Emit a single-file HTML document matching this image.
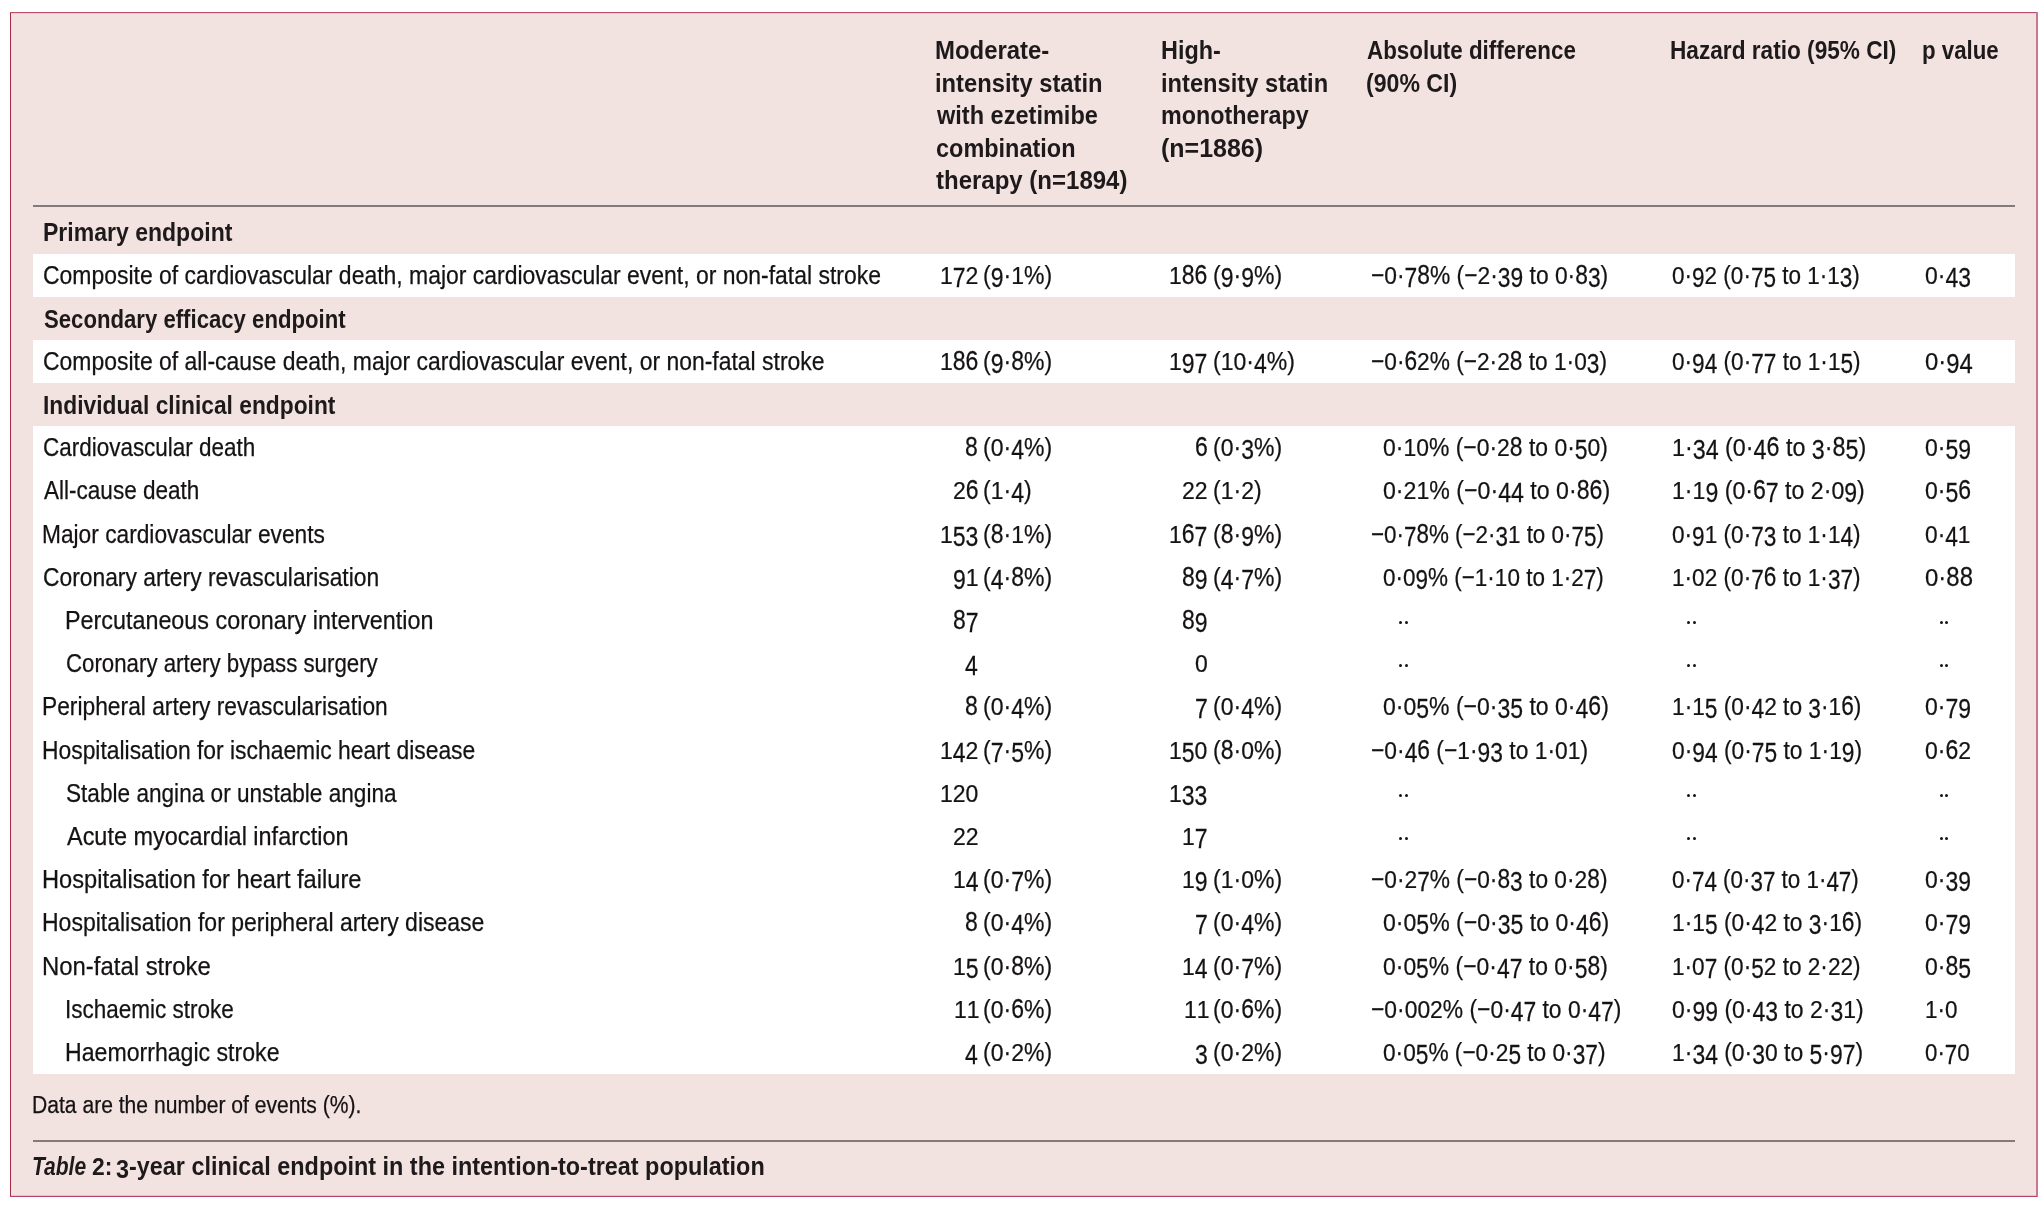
<!DOCTYPE html>
<html><head><meta charset="utf-8"><title>Table 2</title>
<style>
html,body{margin:0;padding:0;background:#fff;width:2044px;height:1206px;overflow:hidden}
.box{position:absolute;left:10px;top:12px;width:2027px;height:1185px;background:#f2e3e1}
.bd{position:absolute}
.w{position:absolute;left:32.5px;width:1982.5px;background:#fff}
.r{position:absolute;left:32.5px;width:1982.5px;background:#857a7b}
.layer{position:absolute;left:0;top:0;width:2044px;height:1206px;will-change:transform}
.g{display:inline-block}
.dt{position:absolute;width:3px;height:3px;border-radius:50%;background:#151213}
.t{position:absolute;white-space:nowrap;line-height:40px;font-family:"Liberation Sans",sans-serif;color:#151213;-webkit-text-stroke:0.25px #151213;transform-origin:0 0}
.b{-webkit-text-stroke:0;color:#1e1a1b}
</style></head><body>
<div class="box"></div>
<div class="bd" style="left:10px;top:12px;width:1px;height:1185px;background:#aa2a4a"></div>
<div class="bd" style="left:10px;top:12px;width:2027px;height:1px;background:#b9506c"></div>
<div class="bd" style="left:11px;top:13px;width:2025px;height:1px;background:#e6c9cc"></div>
<div class="bd" style="left:2036px;top:12px;width:2px;height:1185px;background:#c8788f"></div>
<div class="bd" style="left:10px;top:1196px;width:2027px;height:1px;background:#b4466a"></div>
<div class="bd" style="left:11px;top:1195px;width:2025px;height:1px;background:#e3c2c8"></div>
<div class="w" style="top:253.70px;height:43.00px"></div><div class="w" style="top:340.20px;height:42.60px"></div><div class="w" style="top:426.30px;height:647.40px"></div>
<div class="r" style="top:205px;height:1.6px"></div>
<div class="r" style="top:1140.2px;height:1.4px"></div>
<div class="layer">
<div class="t b" style="left:935.34px;top:30.24px;font-size:25.0px;font-weight:bold;transform:scaleX(0.9566)">Moderate-</div>
<div class="t b" style="left:935.35px;top:62.94px;font-size:25.0px;font-weight:bold;transform:scaleX(0.9498)">intensity statin</div>
<div class="t b" style="left:937.24px;top:95.34px;font-size:25.0px;font-weight:bold;transform:scaleX(0.9415)">with ezetimibe</div>
<div class="t b" style="left:936.30px;top:127.84px;font-size:25.0px;font-weight:bold;transform:scaleX(0.9387)">combination</div>
<div class="t b" style="left:936.30px;top:160.24px;font-size:25.0px;font-weight:bold;transform:scaleX(0.9600)">therapy (n=1894)</div>
<div class="t b" style="left:1161.36px;top:30.24px;font-size:25.0px;font-weight:bold;transform:scaleX(0.9370)">High-</div>
<div class="t b" style="left:1161.35px;top:62.94px;font-size:25.0px;font-weight:bold;transform:scaleX(0.9475)">intensity statin</div>
<div class="t b" style="left:1161.37px;top:95.34px;font-size:25.0px;font-weight:bold;transform:scaleX(0.9330)">monotherapy</div>
<div class="t b" style="left:1161.30px;top:127.84px;font-size:25.0px;font-weight:bold;transform:scaleX(0.9989)">(n=1886)</div>
<div class="t b" style="left:1366.60px;top:30.24px;font-size:25.0px;font-weight:bold;transform:scaleX(0.8948)">Absolute difference</div>
<div class="t b" style="left:1365.68px;top:62.94px;font-size:25.0px;font-weight:bold;transform:scaleX(0.9239)">(90% CI)</div>
<div class="t b" style="left:1670.09px;top:30.24px;font-size:25.0px;font-weight:bold;transform:scaleX(0.9054)">Hazard ratio (95% CI)</div>
<div class="t b" style="left:1921.91px;top:30.24px;font-size:25.0px;font-weight:bold;transform:scaleX(0.8904)">p value</div>
<div class="t b" style="left:43.18px;top:212.44px;font-size:25.0px;font-weight:bold;transform:scaleX(0.9212)">Primary endpoint</div>
<div class="t b" style="left:44.10px;top:298.94px;font-size:25.0px;font-weight:bold;transform:scaleX(0.8861)">Secondary efficacy endpoint</div>
<div class="t b" style="left:43.19px;top:385.14px;font-size:25.0px;font-weight:bold;transform:scaleX(0.9113)">Individual clinical endpoint</div>
<div class="t" style="left:43.32px;top:255.19px;font-size:26.0px;transform:scaleX(0.8825)">Composite of cardiovascular death, major cardiovascular event, or non-fatal stroke</div>
<div class="t" style="left:939.82px;top:255.19px;font-size:26.0px;transform:scaleX(0.8850)"><span class="g" style="transform-origin:0 29.01px;transform:scaleY(0.915)">1</span><span class="g" style="transform-origin:0 29.01px;transform:translateY(2.7px) scaleY(1.04)">7</span><span class="g" style="transform-origin:0 29.01px;transform:scaleY(0.915)">2</span></div>
<div class="t" style="left:983.12px;top:255.19px;font-size:26.0px;transform:scaleX(0.8850)">(<span class="g" style="transform-origin:0 29.01px;transform:translateY(2.7px) scaleY(1.04)">9</span>·<span class="g" style="transform-origin:0 29.01px;transform:scaleY(0.915)">1</span>%)</div>
<div class="t" style="left:1169.02px;top:255.19px;font-size:26.0px;transform:scaleX(0.8850)"><span class="g" style="transform-origin:0 29.01px;transform:scaleY(0.915)">1</span><span class="g" style="transform-origin:0 29.01px;transform:scaleY(1.04)">8</span><span class="g" style="transform-origin:0 29.01px;transform:scaleY(1.04)">6</span></div>
<div class="t" style="left:1213.12px;top:255.19px;font-size:26.0px;transform:scaleX(0.8850)">(<span class="g" style="transform-origin:0 29.01px;transform:translateY(2.7px) scaleY(1.04)">9</span>·<span class="g" style="transform-origin:0 29.01px;transform:translateY(2.7px) scaleY(1.04)">9</span>%)</div>
<div class="t" style="left:1371.02px;top:255.19px;font-size:26.0px;transform:scaleX(0.8771)">−<span class="g" style="transform-origin:0 29.01px;transform:scaleY(0.915)">0</span>·<span class="g" style="transform-origin:0 29.01px;transform:translateY(2.7px) scaleY(1.04)">7</span><span class="g" style="transform-origin:0 29.01px;transform:scaleY(1.04)">8</span>% (−<span class="g" style="transform-origin:0 29.01px;transform:scaleY(0.915)">2</span>·<span class="g" style="transform-origin:0 29.01px;transform:translateY(2.7px) scaleY(1.04)">3</span><span class="g" style="transform-origin:0 29.01px;transform:translateY(2.7px) scaleY(1.04)">9</span> to <span class="g" style="transform-origin:0 29.01px;transform:scaleY(0.915)">0</span>·<span class="g" style="transform-origin:0 29.01px;transform:scaleY(1.04)">8</span><span class="g" style="transform-origin:0 29.01px;transform:translateY(2.7px) scaleY(1.04)">3</span>)</div>
<div class="t" style="left:1672.13px;top:255.19px;font-size:26.0px;transform:scaleX(0.8660)"><span class="g" style="transform-origin:0 29.01px;transform:scaleY(0.915)">0</span>·<span class="g" style="transform-origin:0 29.01px;transform:translateY(2.7px) scaleY(1.04)">9</span><span class="g" style="transform-origin:0 29.01px;transform:scaleY(0.915)">2</span> (<span class="g" style="transform-origin:0 29.01px;transform:scaleY(0.915)">0</span>·<span class="g" style="transform-origin:0 29.01px;transform:translateY(2.7px) scaleY(1.04)">7</span><span class="g" style="transform-origin:0 29.01px;transform:translateY(2.7px) scaleY(1.04)">5</span> to <span class="g" style="transform-origin:0 29.01px;transform:scaleY(0.915)">1</span>·<span class="g" style="transform-origin:0 29.01px;transform:scaleY(0.915)">1</span><span class="g" style="transform-origin:0 29.01px;transform:translateY(2.7px) scaleY(1.04)">3</span>)</div>
<div class="t" style="left:1924.62px;top:255.19px;font-size:26.0px;transform:scaleX(0.8818)"><span class="g" style="transform-origin:0 29.01px;transform:scaleY(0.915)">0</span>·<span class="g" style="transform-origin:0 29.01px;transform:translateY(2.7px) scaleY(1.04)">4</span><span class="g" style="transform-origin:0 29.01px;transform:translateY(2.7px) scaleY(1.04)">3</span></div>
<div class="t" style="left:43.32px;top:340.99px;font-size:26.0px;transform:scaleX(0.8822)">Composite of all-cause death, major cardiovascular event, or non-fatal stroke</div>
<div class="t" style="left:939.82px;top:340.99px;font-size:26.0px;transform:scaleX(0.8850)"><span class="g" style="transform-origin:0 29.01px;transform:scaleY(0.915)">1</span><span class="g" style="transform-origin:0 29.01px;transform:scaleY(1.04)">8</span><span class="g" style="transform-origin:0 29.01px;transform:scaleY(1.04)">6</span></div>
<div class="t" style="left:983.12px;top:340.99px;font-size:26.0px;transform:scaleX(0.8850)">(<span class="g" style="transform-origin:0 29.01px;transform:translateY(2.7px) scaleY(1.04)">9</span>·<span class="g" style="transform-origin:0 29.01px;transform:scaleY(1.04)">8</span>%)</div>
<div class="t" style="left:1169.02px;top:340.99px;font-size:26.0px;transform:scaleX(0.8850)"><span class="g" style="transform-origin:0 29.01px;transform:scaleY(0.915)">1</span><span class="g" style="transform-origin:0 29.01px;transform:translateY(2.7px) scaleY(1.04)">9</span><span class="g" style="transform-origin:0 29.01px;transform:translateY(2.7px) scaleY(1.04)">7</span></div>
<div class="t" style="left:1213.12px;top:340.99px;font-size:26.0px;transform:scaleX(0.8850)">(<span class="g" style="transform-origin:0 29.01px;transform:scaleY(0.915)">1</span><span class="g" style="transform-origin:0 29.01px;transform:scaleY(0.915)">0</span>·<span class="g" style="transform-origin:0 29.01px;transform:translateY(2.7px) scaleY(1.04)">4</span>%)</div>
<div class="t" style="left:1371.03px;top:340.99px;font-size:26.0px;transform:scaleX(0.8726)">−<span class="g" style="transform-origin:0 29.01px;transform:scaleY(0.915)">0</span>·<span class="g" style="transform-origin:0 29.01px;transform:scaleY(1.04)">6</span><span class="g" style="transform-origin:0 29.01px;transform:scaleY(0.915)">2</span>% (−<span class="g" style="transform-origin:0 29.01px;transform:scaleY(0.915)">2</span>·<span class="g" style="transform-origin:0 29.01px;transform:scaleY(0.915)">2</span><span class="g" style="transform-origin:0 29.01px;transform:scaleY(1.04)">8</span> to <span class="g" style="transform-origin:0 29.01px;transform:scaleY(0.915)">1</span>·<span class="g" style="transform-origin:0 29.01px;transform:scaleY(0.915)">0</span><span class="g" style="transform-origin:0 29.01px;transform:translateY(2.7px) scaleY(1.04)">3</span>)</div>
<div class="t" style="left:1672.13px;top:340.99px;font-size:26.0px;transform:scaleX(0.8693)"><span class="g" style="transform-origin:0 29.01px;transform:scaleY(0.915)">0</span>·<span class="g" style="transform-origin:0 29.01px;transform:translateY(2.7px) scaleY(1.04)">9</span><span class="g" style="transform-origin:0 29.01px;transform:translateY(2.7px) scaleY(1.04)">4</span> (<span class="g" style="transform-origin:0 29.01px;transform:scaleY(0.915)">0</span>·<span class="g" style="transform-origin:0 29.01px;transform:translateY(2.7px) scaleY(1.04)">7</span><span class="g" style="transform-origin:0 29.01px;transform:translateY(2.7px) scaleY(1.04)">7</span> to <span class="g" style="transform-origin:0 29.01px;transform:scaleY(0.915)">1</span>·<span class="g" style="transform-origin:0 29.01px;transform:scaleY(0.915)">1</span><span class="g" style="transform-origin:0 29.01px;transform:translateY(2.7px) scaleY(1.04)">5</span>)</div>
<div class="t" style="left:1924.58px;top:340.99px;font-size:26.0px;transform:scaleX(0.9174)"><span class="g" style="transform-origin:0 29.01px;transform:scaleY(0.915)">0</span>·<span class="g" style="transform-origin:0 29.01px;transform:translateY(2.7px) scaleY(1.04)">9</span><span class="g" style="transform-origin:0 29.01px;transform:translateY(2.7px) scaleY(1.04)">4</span></div>
<div class="t" style="left:43.34px;top:427.19px;font-size:26.0px;transform:scaleX(0.8638)">Cardiovascular death</div>
<div class="t" style="left:965.41px;top:427.19px;font-size:26.0px;transform:scaleX(0.8850)"><span class="g" style="transform-origin:0 29.01px;transform:scaleY(1.04)">8</span></div>
<div class="t" style="left:983.12px;top:427.19px;font-size:26.0px;transform:scaleX(0.8850)">(<span class="g" style="transform-origin:0 29.01px;transform:scaleY(0.915)">0</span>·<span class="g" style="transform-origin:0 29.01px;transform:translateY(2.7px) scaleY(1.04)">4</span>%)</div>
<div class="t" style="left:1194.61px;top:427.19px;font-size:26.0px;transform:scaleX(0.8850)"><span class="g" style="transform-origin:0 29.01px;transform:scaleY(1.04)">6</span></div>
<div class="t" style="left:1213.12px;top:427.19px;font-size:26.0px;transform:scaleX(0.8850)">(<span class="g" style="transform-origin:0 29.01px;transform:scaleY(0.915)">0</span>·<span class="g" style="transform-origin:0 29.01px;transform:translateY(2.7px) scaleY(1.04)">3</span>%)</div>
<div class="t" style="left:1383.22px;top:427.19px;font-size:26.0px;transform:scaleX(0.8815)"><span class="g" style="transform-origin:0 29.01px;transform:scaleY(0.915)">0</span>·<span class="g" style="transform-origin:0 29.01px;transform:scaleY(0.915)">1</span><span class="g" style="transform-origin:0 29.01px;transform:scaleY(0.915)">0</span>% (−<span class="g" style="transform-origin:0 29.01px;transform:scaleY(0.915)">0</span>·<span class="g" style="transform-origin:0 29.01px;transform:scaleY(0.915)">2</span><span class="g" style="transform-origin:0 29.01px;transform:scaleY(1.04)">8</span> to <span class="g" style="transform-origin:0 29.01px;transform:scaleY(0.915)">0</span>·<span class="g" style="transform-origin:0 29.01px;transform:translateY(2.7px) scaleY(1.04)">5</span><span class="g" style="transform-origin:0 29.01px;transform:scaleY(0.915)">0</span>)</div>
<div class="t" style="left:1672.10px;top:427.19px;font-size:26.0px;transform:scaleX(0.8953)"><span class="g" style="transform-origin:0 29.01px;transform:scaleY(0.915)">1</span>·<span class="g" style="transform-origin:0 29.01px;transform:translateY(2.7px) scaleY(1.04)">3</span><span class="g" style="transform-origin:0 29.01px;transform:translateY(2.7px) scaleY(1.04)">4</span> (<span class="g" style="transform-origin:0 29.01px;transform:scaleY(0.915)">0</span>·<span class="g" style="transform-origin:0 29.01px;transform:translateY(2.7px) scaleY(1.04)">4</span><span class="g" style="transform-origin:0 29.01px;transform:scaleY(1.04)">6</span> to <span class="g" style="transform-origin:0 29.01px;transform:translateY(2.7px) scaleY(1.04)">3</span>·<span class="g" style="transform-origin:0 29.01px;transform:scaleY(1.04)">8</span><span class="g" style="transform-origin:0 29.01px;transform:translateY(2.7px) scaleY(1.04)">5</span>)</div>
<div class="t" style="left:1924.62px;top:427.19px;font-size:26.0px;transform:scaleX(0.8850)"><span class="g" style="transform-origin:0 29.01px;transform:scaleY(0.915)">0</span>·<span class="g" style="transform-origin:0 29.01px;transform:translateY(2.7px) scaleY(1.04)">5</span><span class="g" style="transform-origin:0 29.01px;transform:translateY(2.7px) scaleY(1.04)">9</span></div>
<div class="t" style="left:44.20px;top:470.39px;font-size:26.0px;transform:scaleX(0.8669)">All-cause death</div>
<div class="t" style="left:952.61px;top:470.39px;font-size:26.0px;transform:scaleX(0.8850)"><span class="g" style="transform-origin:0 29.01px;transform:scaleY(0.915)">2</span><span class="g" style="transform-origin:0 29.01px;transform:scaleY(1.04)">6</span></div>
<div class="t" style="left:983.12px;top:470.39px;font-size:26.0px;transform:scaleX(0.8850)">(<span class="g" style="transform-origin:0 29.01px;transform:scaleY(0.915)">1</span>·<span class="g" style="transform-origin:0 29.01px;transform:translateY(2.7px) scaleY(1.04)">4</span>)</div>
<div class="t" style="left:1181.81px;top:470.39px;font-size:26.0px;transform:scaleX(0.8850)"><span class="g" style="transform-origin:0 29.01px;transform:scaleY(0.915)">2</span><span class="g" style="transform-origin:0 29.01px;transform:scaleY(0.915)">2</span></div>
<div class="t" style="left:1213.12px;top:470.39px;font-size:26.0px;transform:scaleX(0.8850)">(<span class="g" style="transform-origin:0 29.01px;transform:scaleY(0.915)">1</span>·<span class="g" style="transform-origin:0 29.01px;transform:scaleY(0.915)">2</span>)</div>
<div class="t" style="left:1383.21px;top:470.39px;font-size:26.0px;transform:scaleX(0.8898)"><span class="g" style="transform-origin:0 29.01px;transform:scaleY(0.915)">0</span>·<span class="g" style="transform-origin:0 29.01px;transform:scaleY(0.915)">2</span><span class="g" style="transform-origin:0 29.01px;transform:scaleY(0.915)">1</span>% (−<span class="g" style="transform-origin:0 29.01px;transform:scaleY(0.915)">0</span>·<span class="g" style="transform-origin:0 29.01px;transform:translateY(2.7px) scaleY(1.04)">4</span><span class="g" style="transform-origin:0 29.01px;transform:translateY(2.7px) scaleY(1.04)">4</span> to <span class="g" style="transform-origin:0 29.01px;transform:scaleY(0.915)">0</span>·<span class="g" style="transform-origin:0 29.01px;transform:scaleY(1.04)">8</span><span class="g" style="transform-origin:0 29.01px;transform:scaleY(1.04)">6</span>)</div>
<div class="t" style="left:1672.11px;top:470.39px;font-size:26.0px;transform:scaleX(0.8888)"><span class="g" style="transform-origin:0 29.01px;transform:scaleY(0.915)">1</span>·<span class="g" style="transform-origin:0 29.01px;transform:scaleY(0.915)">1</span><span class="g" style="transform-origin:0 29.01px;transform:translateY(2.7px) scaleY(1.04)">9</span> (<span class="g" style="transform-origin:0 29.01px;transform:scaleY(0.915)">0</span>·<span class="g" style="transform-origin:0 29.01px;transform:scaleY(1.04)">6</span><span class="g" style="transform-origin:0 29.01px;transform:translateY(2.7px) scaleY(1.04)">7</span> to <span class="g" style="transform-origin:0 29.01px;transform:scaleY(0.915)">2</span>·<span class="g" style="transform-origin:0 29.01px;transform:scaleY(0.915)">0</span><span class="g" style="transform-origin:0 29.01px;transform:translateY(2.7px) scaleY(1.04)">9</span>)</div>
<div class="t" style="left:1924.62px;top:470.39px;font-size:26.0px;transform:scaleX(0.8850)"><span class="g" style="transform-origin:0 29.01px;transform:scaleY(0.915)">0</span>·<span class="g" style="transform-origin:0 29.01px;transform:translateY(2.7px) scaleY(1.04)">5</span><span class="g" style="transform-origin:0 29.01px;transform:scaleY(1.04)">6</span></div>
<div class="t" style="left:42.45px;top:513.59px;font-size:26.0px;transform:scaleX(0.8741)">Major cardiovascular events</div>
<div class="t" style="left:939.82px;top:513.59px;font-size:26.0px;transform:scaleX(0.8850)"><span class="g" style="transform-origin:0 29.01px;transform:scaleY(0.915)">1</span><span class="g" style="transform-origin:0 29.01px;transform:translateY(2.7px) scaleY(1.04)">5</span><span class="g" style="transform-origin:0 29.01px;transform:translateY(2.7px) scaleY(1.04)">3</span></div>
<div class="t" style="left:983.12px;top:513.59px;font-size:26.0px;transform:scaleX(0.8850)">(<span class="g" style="transform-origin:0 29.01px;transform:scaleY(1.04)">8</span>·<span class="g" style="transform-origin:0 29.01px;transform:scaleY(0.915)">1</span>%)</div>
<div class="t" style="left:1169.02px;top:513.59px;font-size:26.0px;transform:scaleX(0.8850)"><span class="g" style="transform-origin:0 29.01px;transform:scaleY(0.915)">1</span><span class="g" style="transform-origin:0 29.01px;transform:scaleY(1.04)">6</span><span class="g" style="transform-origin:0 29.01px;transform:translateY(2.7px) scaleY(1.04)">7</span></div>
<div class="t" style="left:1213.12px;top:513.59px;font-size:26.0px;transform:scaleX(0.8850)">(<span class="g" style="transform-origin:0 29.01px;transform:scaleY(1.04)">8</span>·<span class="g" style="transform-origin:0 29.01px;transform:translateY(2.7px) scaleY(1.04)">9</span>%)</div>
<div class="t" style="left:1371.04px;top:513.59px;font-size:26.0px;transform:scaleX(0.8611)">−<span class="g" style="transform-origin:0 29.01px;transform:scaleY(0.915)">0</span>·<span class="g" style="transform-origin:0 29.01px;transform:translateY(2.7px) scaleY(1.04)">7</span><span class="g" style="transform-origin:0 29.01px;transform:scaleY(1.04)">8</span>% (−<span class="g" style="transform-origin:0 29.01px;transform:scaleY(0.915)">2</span>·<span class="g" style="transform-origin:0 29.01px;transform:translateY(2.7px) scaleY(1.04)">3</span><span class="g" style="transform-origin:0 29.01px;transform:scaleY(0.915)">1</span> to <span class="g" style="transform-origin:0 29.01px;transform:scaleY(0.915)">0</span>·<span class="g" style="transform-origin:0 29.01px;transform:translateY(2.7px) scaleY(1.04)">7</span><span class="g" style="transform-origin:0 29.01px;transform:translateY(2.7px) scaleY(1.04)">5</span>)</div>
<div class="t" style="left:1672.13px;top:513.59px;font-size:26.0px;transform:scaleX(0.8693)"><span class="g" style="transform-origin:0 29.01px;transform:scaleY(0.915)">0</span>·<span class="g" style="transform-origin:0 29.01px;transform:translateY(2.7px) scaleY(1.04)">9</span><span class="g" style="transform-origin:0 29.01px;transform:scaleY(0.915)">1</span> (<span class="g" style="transform-origin:0 29.01px;transform:scaleY(0.915)">0</span>·<span class="g" style="transform-origin:0 29.01px;transform:translateY(2.7px) scaleY(1.04)">7</span><span class="g" style="transform-origin:0 29.01px;transform:translateY(2.7px) scaleY(1.04)">3</span> to <span class="g" style="transform-origin:0 29.01px;transform:scaleY(0.915)">1</span>·<span class="g" style="transform-origin:0 29.01px;transform:scaleY(0.915)">1</span><span class="g" style="transform-origin:0 29.01px;transform:translateY(2.7px) scaleY(1.04)">4</span>)</div>
<div class="t" style="left:1924.63px;top:513.59px;font-size:26.0px;transform:scaleX(0.8739)"><span class="g" style="transform-origin:0 29.01px;transform:scaleY(0.915)">0</span>·<span class="g" style="transform-origin:0 29.01px;transform:translateY(2.7px) scaleY(1.04)">4</span><span class="g" style="transform-origin:0 29.01px;transform:scaleY(0.915)">1</span></div>
<div class="t" style="left:43.32px;top:556.79px;font-size:26.0px;transform:scaleX(0.8779)">Coronary artery revascularisation</div>
<div class="t" style="left:952.61px;top:556.79px;font-size:26.0px;transform:scaleX(0.8850)"><span class="g" style="transform-origin:0 29.01px;transform:translateY(2.7px) scaleY(1.04)">9</span><span class="g" style="transform-origin:0 29.01px;transform:scaleY(0.915)">1</span></div>
<div class="t" style="left:983.12px;top:556.79px;font-size:26.0px;transform:scaleX(0.8850)">(<span class="g" style="transform-origin:0 29.01px;transform:translateY(2.7px) scaleY(1.04)">4</span>·<span class="g" style="transform-origin:0 29.01px;transform:scaleY(1.04)">8</span>%)</div>
<div class="t" style="left:1181.81px;top:556.79px;font-size:26.0px;transform:scaleX(0.8850)"><span class="g" style="transform-origin:0 29.01px;transform:scaleY(1.04)">8</span><span class="g" style="transform-origin:0 29.01px;transform:translateY(2.7px) scaleY(1.04)">9</span></div>
<div class="t" style="left:1213.12px;top:556.79px;font-size:26.0px;transform:scaleX(0.8850)">(<span class="g" style="transform-origin:0 29.01px;transform:translateY(2.7px) scaleY(1.04)">4</span>·<span class="g" style="transform-origin:0 29.01px;transform:translateY(2.7px) scaleY(1.04)">7</span>%)</div>
<div class="t" style="left:1383.24px;top:556.79px;font-size:26.0px;transform:scaleX(0.8645)"><span class="g" style="transform-origin:0 29.01px;transform:scaleY(0.915)">0</span>·<span class="g" style="transform-origin:0 29.01px;transform:scaleY(0.915)">0</span><span class="g" style="transform-origin:0 29.01px;transform:translateY(2.7px) scaleY(1.04)">9</span>% (−<span class="g" style="transform-origin:0 29.01px;transform:scaleY(0.915)">1</span>·<span class="g" style="transform-origin:0 29.01px;transform:scaleY(0.915)">1</span><span class="g" style="transform-origin:0 29.01px;transform:scaleY(0.915)">0</span> to <span class="g" style="transform-origin:0 29.01px;transform:scaleY(0.915)">1</span>·<span class="g" style="transform-origin:0 29.01px;transform:scaleY(0.915)">2</span><span class="g" style="transform-origin:0 29.01px;transform:translateY(2.7px) scaleY(1.04)">7</span>)</div>
<div class="t" style="left:1672.13px;top:556.79px;font-size:26.0px;transform:scaleX(0.8693)"><span class="g" style="transform-origin:0 29.01px;transform:scaleY(0.915)">1</span>·<span class="g" style="transform-origin:0 29.01px;transform:scaleY(0.915)">0</span><span class="g" style="transform-origin:0 29.01px;transform:scaleY(0.915)">2</span> (<span class="g" style="transform-origin:0 29.01px;transform:scaleY(0.915)">0</span>·<span class="g" style="transform-origin:0 29.01px;transform:translateY(2.7px) scaleY(1.04)">7</span><span class="g" style="transform-origin:0 29.01px;transform:scaleY(1.04)">6</span> to <span class="g" style="transform-origin:0 29.01px;transform:scaleY(0.915)">1</span>·<span class="g" style="transform-origin:0 29.01px;transform:translateY(2.7px) scaleY(1.04)">3</span><span class="g" style="transform-origin:0 29.01px;transform:translateY(2.7px) scaleY(1.04)">7</span>)</div>
<div class="t" style="left:1924.58px;top:556.79px;font-size:26.0px;transform:scaleX(0.9213)"><span class="g" style="transform-origin:0 29.01px;transform:scaleY(0.915)">0</span>·<span class="g" style="transform-origin:0 29.01px;transform:scaleY(1.04)">8</span><span class="g" style="transform-origin:0 29.01px;transform:scaleY(1.04)">8</span></div>
<div class="t" style="left:64.80px;top:599.99px;font-size:26.0px;transform:scaleX(0.8975)">Percutaneous coronary intervention</div>
<div class="t" style="left:952.61px;top:599.99px;font-size:26.0px;transform:scaleX(0.8850)"><span class="g" style="transform-origin:0 29.01px;transform:scaleY(1.04)">8</span><span class="g" style="transform-origin:0 29.01px;transform:translateY(2.7px) scaleY(1.04)">7</span></div>
<div class="t" style="left:1181.81px;top:599.99px;font-size:26.0px;transform:scaleX(0.8850)"><span class="g" style="transform-origin:0 29.01px;transform:scaleY(1.04)">8</span><span class="g" style="transform-origin:0 29.01px;transform:translateY(2.7px) scaleY(1.04)">9</span></div>
<div class="t" style="left:65.74px;top:643.19px;font-size:26.0px;transform:scaleX(0.8559)">Coronary artery bypass surgery</div>
<div class="t" style="left:965.41px;top:643.19px;font-size:26.0px;transform:scaleX(0.8850)"><span class="g" style="transform-origin:0 29.01px;transform:translateY(2.7px) scaleY(1.04)">4</span></div>
<div class="t" style="left:1194.61px;top:643.19px;font-size:26.0px;transform:scaleX(0.8850)"><span class="g" style="transform-origin:0 29.01px;transform:scaleY(0.915)">0</span></div>
<div class="t" style="left:42.45px;top:686.39px;font-size:26.0px;transform:scaleX(0.8764)">Peripheral artery revascularisation</div>
<div class="t" style="left:965.41px;top:686.39px;font-size:26.0px;transform:scaleX(0.8850)"><span class="g" style="transform-origin:0 29.01px;transform:scaleY(1.04)">8</span></div>
<div class="t" style="left:983.12px;top:686.39px;font-size:26.0px;transform:scaleX(0.8850)">(<span class="g" style="transform-origin:0 29.01px;transform:scaleY(0.915)">0</span>·<span class="g" style="transform-origin:0 29.01px;transform:translateY(2.7px) scaleY(1.04)">4</span>%)</div>
<div class="t" style="left:1194.61px;top:686.39px;font-size:26.0px;transform:scaleX(0.8850)"><span class="g" style="transform-origin:0 29.01px;transform:translateY(2.7px) scaleY(1.04)">7</span></div>
<div class="t" style="left:1213.12px;top:686.39px;font-size:26.0px;transform:scaleX(0.8850)">(<span class="g" style="transform-origin:0 29.01px;transform:scaleY(0.915)">0</span>·<span class="g" style="transform-origin:0 29.01px;transform:translateY(2.7px) scaleY(1.04)">4</span>%)</div>
<div class="t" style="left:1383.22px;top:686.39px;font-size:26.0px;transform:scaleX(0.8847)"><span class="g" style="transform-origin:0 29.01px;transform:scaleY(0.915)">0</span>·<span class="g" style="transform-origin:0 29.01px;transform:scaleY(0.915)">0</span><span class="g" style="transform-origin:0 29.01px;transform:translateY(2.7px) scaleY(1.04)">5</span>% (−<span class="g" style="transform-origin:0 29.01px;transform:scaleY(0.915)">0</span>·<span class="g" style="transform-origin:0 29.01px;transform:translateY(2.7px) scaleY(1.04)">3</span><span class="g" style="transform-origin:0 29.01px;transform:translateY(2.7px) scaleY(1.04)">5</span> to <span class="g" style="transform-origin:0 29.01px;transform:scaleY(0.915)">0</span>·<span class="g" style="transform-origin:0 29.01px;transform:translateY(2.7px) scaleY(1.04)">4</span><span class="g" style="transform-origin:0 29.01px;transform:scaleY(1.04)">6</span>)</div>
<div class="t" style="left:1672.13px;top:686.39px;font-size:26.0px;transform:scaleX(0.8730)"><span class="g" style="transform-origin:0 29.01px;transform:scaleY(0.915)">1</span>·<span class="g" style="transform-origin:0 29.01px;transform:scaleY(0.915)">1</span><span class="g" style="transform-origin:0 29.01px;transform:translateY(2.7px) scaleY(1.04)">5</span> (<span class="g" style="transform-origin:0 29.01px;transform:scaleY(0.915)">0</span>·<span class="g" style="transform-origin:0 29.01px;transform:translateY(2.7px) scaleY(1.04)">4</span><span class="g" style="transform-origin:0 29.01px;transform:scaleY(0.915)">2</span> to <span class="g" style="transform-origin:0 29.01px;transform:translateY(2.7px) scaleY(1.04)">3</span>·<span class="g" style="transform-origin:0 29.01px;transform:scaleY(0.915)">1</span><span class="g" style="transform-origin:0 29.01px;transform:scaleY(1.04)">6</span>)</div>
<div class="t" style="left:1924.62px;top:686.39px;font-size:26.0px;transform:scaleX(0.8850)"><span class="g" style="transform-origin:0 29.01px;transform:scaleY(0.915)">0</span>·<span class="g" style="transform-origin:0 29.01px;transform:translateY(2.7px) scaleY(1.04)">7</span><span class="g" style="transform-origin:0 29.01px;transform:translateY(2.7px) scaleY(1.04)">9</span></div>
<div class="t" style="left:42.44px;top:729.59px;font-size:26.0px;transform:scaleX(0.8792)">Hospitalisation for ischaemic heart disease</div>
<div class="t" style="left:939.82px;top:729.59px;font-size:26.0px;transform:scaleX(0.8850)"><span class="g" style="transform-origin:0 29.01px;transform:scaleY(0.915)">1</span><span class="g" style="transform-origin:0 29.01px;transform:translateY(2.7px) scaleY(1.04)">4</span><span class="g" style="transform-origin:0 29.01px;transform:scaleY(0.915)">2</span></div>
<div class="t" style="left:983.12px;top:729.59px;font-size:26.0px;transform:scaleX(0.8850)">(<span class="g" style="transform-origin:0 29.01px;transform:translateY(2.7px) scaleY(1.04)">7</span>·<span class="g" style="transform-origin:0 29.01px;transform:translateY(2.7px) scaleY(1.04)">5</span>%)</div>
<div class="t" style="left:1169.02px;top:729.59px;font-size:26.0px;transform:scaleX(0.8850)"><span class="g" style="transform-origin:0 29.01px;transform:scaleY(0.915)">1</span><span class="g" style="transform-origin:0 29.01px;transform:translateY(2.7px) scaleY(1.04)">5</span><span class="g" style="transform-origin:0 29.01px;transform:scaleY(0.915)">0</span></div>
<div class="t" style="left:1213.12px;top:729.59px;font-size:26.0px;transform:scaleX(0.8850)">(<span class="g" style="transform-origin:0 29.01px;transform:scaleY(1.04)">8</span>·<span class="g" style="transform-origin:0 29.01px;transform:scaleY(0.915)">0</span>%)</div>
<div class="t" style="left:1371.02px;top:729.59px;font-size:26.0px;transform:scaleX(0.8774)">−<span class="g" style="transform-origin:0 29.01px;transform:scaleY(0.915)">0</span>·<span class="g" style="transform-origin:0 29.01px;transform:translateY(2.7px) scaleY(1.04)">4</span><span class="g" style="transform-origin:0 29.01px;transform:scaleY(1.04)">6</span> (−<span class="g" style="transform-origin:0 29.01px;transform:scaleY(0.915)">1</span>·<span class="g" style="transform-origin:0 29.01px;transform:translateY(2.7px) scaleY(1.04)">9</span><span class="g" style="transform-origin:0 29.01px;transform:translateY(2.7px) scaleY(1.04)">3</span> to <span class="g" style="transform-origin:0 29.01px;transform:scaleY(0.915)">1</span>·<span class="g" style="transform-origin:0 29.01px;transform:scaleY(0.915)">0</span><span class="g" style="transform-origin:0 29.01px;transform:scaleY(0.915)">1</span>)</div>
<div class="t" style="left:1672.12px;top:729.59px;font-size:26.0px;transform:scaleX(0.8762)"><span class="g" style="transform-origin:0 29.01px;transform:scaleY(0.915)">0</span>·<span class="g" style="transform-origin:0 29.01px;transform:translateY(2.7px) scaleY(1.04)">9</span><span class="g" style="transform-origin:0 29.01px;transform:translateY(2.7px) scaleY(1.04)">4</span> (<span class="g" style="transform-origin:0 29.01px;transform:scaleY(0.915)">0</span>·<span class="g" style="transform-origin:0 29.01px;transform:translateY(2.7px) scaleY(1.04)">7</span><span class="g" style="transform-origin:0 29.01px;transform:translateY(2.7px) scaleY(1.04)">5</span> to <span class="g" style="transform-origin:0 29.01px;transform:scaleY(0.915)">1</span>·<span class="g" style="transform-origin:0 29.01px;transform:scaleY(0.915)">1</span><span class="g" style="transform-origin:0 29.01px;transform:translateY(2.7px) scaleY(1.04)">9</span>)</div>
<div class="t" style="left:1924.62px;top:729.59px;font-size:26.0px;transform:scaleX(0.8850)"><span class="g" style="transform-origin:0 29.01px;transform:scaleY(0.915)">0</span>·<span class="g" style="transform-origin:0 29.01px;transform:scaleY(1.04)">6</span><span class="g" style="transform-origin:0 29.01px;transform:scaleY(0.915)">2</span></div>
<div class="t" style="left:65.73px;top:772.79px;font-size:26.0px;transform:scaleX(0.8696)">Stable angina or unstable angina</div>
<div class="t" style="left:939.82px;top:772.79px;font-size:26.0px;transform:scaleX(0.8850)"><span class="g" style="transform-origin:0 29.01px;transform:scaleY(0.915)">1</span><span class="g" style="transform-origin:0 29.01px;transform:scaleY(0.915)">2</span><span class="g" style="transform-origin:0 29.01px;transform:scaleY(0.915)">0</span></div>
<div class="t" style="left:1169.02px;top:772.79px;font-size:26.0px;transform:scaleX(0.8850)"><span class="g" style="transform-origin:0 29.01px;transform:scaleY(0.915)">1</span><span class="g" style="transform-origin:0 29.01px;transform:translateY(2.7px) scaleY(1.04)">3</span><span class="g" style="transform-origin:0 29.01px;transform:translateY(2.7px) scaleY(1.04)">3</span></div>
<div class="t" style="left:66.60px;top:815.99px;font-size:26.0px;transform:scaleX(0.9019)">Acute myocardial infarction</div>
<div class="t" style="left:952.61px;top:815.99px;font-size:26.0px;transform:scaleX(0.8850)"><span class="g" style="transform-origin:0 29.01px;transform:scaleY(0.915)">2</span><span class="g" style="transform-origin:0 29.01px;transform:scaleY(0.915)">2</span></div>
<div class="t" style="left:1181.81px;top:815.99px;font-size:26.0px;transform:scaleX(0.8850)"><span class="g" style="transform-origin:0 29.01px;transform:scaleY(0.915)">1</span><span class="g" style="transform-origin:0 29.01px;transform:translateY(2.7px) scaleY(1.04)">7</span></div>
<div class="t" style="left:42.38px;top:859.19px;font-size:26.0px;transform:scaleX(0.9096)">Hospitalisation for heart failure</div>
<div class="t" style="left:952.61px;top:859.19px;font-size:26.0px;transform:scaleX(0.8850)"><span class="g" style="transform-origin:0 29.01px;transform:scaleY(0.915)">1</span><span class="g" style="transform-origin:0 29.01px;transform:translateY(2.7px) scaleY(1.04)">4</span></div>
<div class="t" style="left:983.12px;top:859.19px;font-size:26.0px;transform:scaleX(0.8850)">(<span class="g" style="transform-origin:0 29.01px;transform:scaleY(0.915)">0</span>·<span class="g" style="transform-origin:0 29.01px;transform:translateY(2.7px) scaleY(1.04)">7</span>%)</div>
<div class="t" style="left:1181.81px;top:859.19px;font-size:26.0px;transform:scaleX(0.8850)"><span class="g" style="transform-origin:0 29.01px;transform:scaleY(0.915)">1</span><span class="g" style="transform-origin:0 29.01px;transform:translateY(2.7px) scaleY(1.04)">9</span></div>
<div class="t" style="left:1213.12px;top:859.19px;font-size:26.0px;transform:scaleX(0.8850)">(<span class="g" style="transform-origin:0 29.01px;transform:scaleY(0.915)">1</span>·<span class="g" style="transform-origin:0 29.01px;transform:scaleY(0.915)">0</span>%)</div>
<div class="t" style="left:1371.03px;top:859.19px;font-size:26.0px;transform:scaleX(0.8745)">−<span class="g" style="transform-origin:0 29.01px;transform:scaleY(0.915)">0</span>·<span class="g" style="transform-origin:0 29.01px;transform:scaleY(0.915)">2</span><span class="g" style="transform-origin:0 29.01px;transform:translateY(2.7px) scaleY(1.04)">7</span>% (−<span class="g" style="transform-origin:0 29.01px;transform:scaleY(0.915)">0</span>·<span class="g" style="transform-origin:0 29.01px;transform:scaleY(1.04)">8</span><span class="g" style="transform-origin:0 29.01px;transform:translateY(2.7px) scaleY(1.04)">3</span> to <span class="g" style="transform-origin:0 29.01px;transform:scaleY(0.915)">0</span>·<span class="g" style="transform-origin:0 29.01px;transform:scaleY(0.915)">2</span><span class="g" style="transform-origin:0 29.01px;transform:scaleY(1.04)">8</span>)</div>
<div class="t" style="left:1672.14px;top:859.19px;font-size:26.0px;transform:scaleX(0.8609)"><span class="g" style="transform-origin:0 29.01px;transform:scaleY(0.915)">0</span>·<span class="g" style="transform-origin:0 29.01px;transform:translateY(2.7px) scaleY(1.04)">7</span><span class="g" style="transform-origin:0 29.01px;transform:translateY(2.7px) scaleY(1.04)">4</span> (<span class="g" style="transform-origin:0 29.01px;transform:scaleY(0.915)">0</span>·<span class="g" style="transform-origin:0 29.01px;transform:translateY(2.7px) scaleY(1.04)">3</span><span class="g" style="transform-origin:0 29.01px;transform:translateY(2.7px) scaleY(1.04)">7</span> to <span class="g" style="transform-origin:0 29.01px;transform:scaleY(0.915)">1</span>·<span class="g" style="transform-origin:0 29.01px;transform:translateY(2.7px) scaleY(1.04)">4</span><span class="g" style="transform-origin:0 29.01px;transform:translateY(2.7px) scaleY(1.04)">7</span>)</div>
<div class="t" style="left:1924.62px;top:859.19px;font-size:26.0px;transform:scaleX(0.8818)"><span class="g" style="transform-origin:0 29.01px;transform:scaleY(0.915)">0</span>·<span class="g" style="transform-origin:0 29.01px;transform:translateY(2.7px) scaleY(1.04)">3</span><span class="g" style="transform-origin:0 29.01px;transform:translateY(2.7px) scaleY(1.04)">9</span></div>
<div class="t" style="left:42.43px;top:902.39px;font-size:26.0px;transform:scaleX(0.8847)">Hospitalisation for peripheral artery disease</div>
<div class="t" style="left:965.41px;top:902.39px;font-size:26.0px;transform:scaleX(0.8850)"><span class="g" style="transform-origin:0 29.01px;transform:scaleY(1.04)">8</span></div>
<div class="t" style="left:983.12px;top:902.39px;font-size:26.0px;transform:scaleX(0.8850)">(<span class="g" style="transform-origin:0 29.01px;transform:scaleY(0.915)">0</span>·<span class="g" style="transform-origin:0 29.01px;transform:translateY(2.7px) scaleY(1.04)">4</span>%)</div>
<div class="t" style="left:1194.61px;top:902.39px;font-size:26.0px;transform:scaleX(0.8850)"><span class="g" style="transform-origin:0 29.01px;transform:translateY(2.7px) scaleY(1.04)">7</span></div>
<div class="t" style="left:1213.12px;top:902.39px;font-size:26.0px;transform:scaleX(0.8850)">(<span class="g" style="transform-origin:0 29.01px;transform:scaleY(0.915)">0</span>·<span class="g" style="transform-origin:0 29.01px;transform:translateY(2.7px) scaleY(1.04)">4</span>%)</div>
<div class="t" style="left:1383.21px;top:902.39px;font-size:26.0px;transform:scaleX(0.8866)"><span class="g" style="transform-origin:0 29.01px;transform:scaleY(0.915)">0</span>·<span class="g" style="transform-origin:0 29.01px;transform:scaleY(0.915)">0</span><span class="g" style="transform-origin:0 29.01px;transform:translateY(2.7px) scaleY(1.04)">5</span>% (−<span class="g" style="transform-origin:0 29.01px;transform:scaleY(0.915)">0</span>·<span class="g" style="transform-origin:0 29.01px;transform:translateY(2.7px) scaleY(1.04)">3</span><span class="g" style="transform-origin:0 29.01px;transform:translateY(2.7px) scaleY(1.04)">5</span> to <span class="g" style="transform-origin:0 29.01px;transform:scaleY(0.915)">0</span>·<span class="g" style="transform-origin:0 29.01px;transform:translateY(2.7px) scaleY(1.04)">4</span><span class="g" style="transform-origin:0 29.01px;transform:scaleY(1.04)">6</span>)</div>
<div class="t" style="left:1672.12px;top:902.39px;font-size:26.0px;transform:scaleX(0.8762)"><span class="g" style="transform-origin:0 29.01px;transform:scaleY(0.915)">1</span>·<span class="g" style="transform-origin:0 29.01px;transform:scaleY(0.915)">1</span><span class="g" style="transform-origin:0 29.01px;transform:translateY(2.7px) scaleY(1.04)">5</span> (<span class="g" style="transform-origin:0 29.01px;transform:scaleY(0.915)">0</span>·<span class="g" style="transform-origin:0 29.01px;transform:translateY(2.7px) scaleY(1.04)">4</span><span class="g" style="transform-origin:0 29.01px;transform:scaleY(0.915)">2</span> to <span class="g" style="transform-origin:0 29.01px;transform:translateY(2.7px) scaleY(1.04)">3</span>·<span class="g" style="transform-origin:0 29.01px;transform:scaleY(0.915)">1</span><span class="g" style="transform-origin:0 29.01px;transform:scaleY(1.04)">6</span>)</div>
<div class="t" style="left:1924.62px;top:902.39px;font-size:26.0px;transform:scaleX(0.8850)"><span class="g" style="transform-origin:0 29.01px;transform:scaleY(0.915)">0</span>·<span class="g" style="transform-origin:0 29.01px;transform:translateY(2.7px) scaleY(1.04)">7</span><span class="g" style="transform-origin:0 29.01px;transform:translateY(2.7px) scaleY(1.04)">9</span></div>
<div class="t" style="left:42.36px;top:945.59px;font-size:26.0px;transform:scaleX(0.9196)">Non-fatal stroke</div>
<div class="t" style="left:952.61px;top:945.59px;font-size:26.0px;transform:scaleX(0.8850)"><span class="g" style="transform-origin:0 29.01px;transform:scaleY(0.915)">1</span><span class="g" style="transform-origin:0 29.01px;transform:translateY(2.7px) scaleY(1.04)">5</span></div>
<div class="t" style="left:983.12px;top:945.59px;font-size:26.0px;transform:scaleX(0.8850)">(<span class="g" style="transform-origin:0 29.01px;transform:scaleY(0.915)">0</span>·<span class="g" style="transform-origin:0 29.01px;transform:scaleY(1.04)">8</span>%)</div>
<div class="t" style="left:1181.81px;top:945.59px;font-size:26.0px;transform:scaleX(0.8850)"><span class="g" style="transform-origin:0 29.01px;transform:scaleY(0.915)">1</span><span class="g" style="transform-origin:0 29.01px;transform:translateY(2.7px) scaleY(1.04)">4</span></div>
<div class="t" style="left:1213.12px;top:945.59px;font-size:26.0px;transform:scaleX(0.8850)">(<span class="g" style="transform-origin:0 29.01px;transform:scaleY(0.915)">0</span>·<span class="g" style="transform-origin:0 29.01px;transform:translateY(2.7px) scaleY(1.04)">7</span>%)</div>
<div class="t" style="left:1383.22px;top:945.59px;font-size:26.0px;transform:scaleX(0.8807)"><span class="g" style="transform-origin:0 29.01px;transform:scaleY(0.915)">0</span>·<span class="g" style="transform-origin:0 29.01px;transform:scaleY(0.915)">0</span><span class="g" style="transform-origin:0 29.01px;transform:translateY(2.7px) scaleY(1.04)">5</span>% (−<span class="g" style="transform-origin:0 29.01px;transform:scaleY(0.915)">0</span>·<span class="g" style="transform-origin:0 29.01px;transform:translateY(2.7px) scaleY(1.04)">4</span><span class="g" style="transform-origin:0 29.01px;transform:translateY(2.7px) scaleY(1.04)">7</span> to <span class="g" style="transform-origin:0 29.01px;transform:scaleY(0.915)">0</span>·<span class="g" style="transform-origin:0 29.01px;transform:translateY(2.7px) scaleY(1.04)">5</span><span class="g" style="transform-origin:0 29.01px;transform:scaleY(1.04)">8</span>)</div>
<div class="t" style="left:1672.13px;top:945.59px;font-size:26.0px;transform:scaleX(0.8693)"><span class="g" style="transform-origin:0 29.01px;transform:scaleY(0.915)">1</span>·<span class="g" style="transform-origin:0 29.01px;transform:scaleY(0.915)">0</span><span class="g" style="transform-origin:0 29.01px;transform:translateY(2.7px) scaleY(1.04)">7</span> (<span class="g" style="transform-origin:0 29.01px;transform:scaleY(0.915)">0</span>·<span class="g" style="transform-origin:0 29.01px;transform:translateY(2.7px) scaleY(1.04)">5</span><span class="g" style="transform-origin:0 29.01px;transform:scaleY(0.915)">2</span> to <span class="g" style="transform-origin:0 29.01px;transform:scaleY(0.915)">2</span>·<span class="g" style="transform-origin:0 29.01px;transform:scaleY(0.915)">2</span><span class="g" style="transform-origin:0 29.01px;transform:scaleY(0.915)">2</span>)</div>
<div class="t" style="left:1924.62px;top:945.59px;font-size:26.0px;transform:scaleX(0.8850)"><span class="g" style="transform-origin:0 29.01px;transform:scaleY(0.915)">0</span>·<span class="g" style="transform-origin:0 29.01px;transform:scaleY(1.04)">8</span><span class="g" style="transform-origin:0 29.01px;transform:translateY(2.7px) scaleY(1.04)">5</span></div>
<div class="t" style="left:64.87px;top:988.79px;font-size:26.0px;transform:scaleX(0.8655)">Ischaemic stroke</div>
<div class="t" style="left:954.32px;top:988.79px;font-size:26.0px;transform:scaleX(0.8850)"><span class="g" style="transform-origin:0 29.01px;transform:scaleY(0.915)">1</span><span class="g" style="transform-origin:0 29.01px;transform:scaleY(0.915)">1</span></div>
<div class="t" style="left:983.12px;top:988.79px;font-size:26.0px;transform:scaleX(0.8850)">(<span class="g" style="transform-origin:0 29.01px;transform:scaleY(0.915)">0</span>·<span class="g" style="transform-origin:0 29.01px;transform:scaleY(1.04)">6</span>%)</div>
<div class="t" style="left:1183.52px;top:988.79px;font-size:26.0px;transform:scaleX(0.8850)"><span class="g" style="transform-origin:0 29.01px;transform:scaleY(0.915)">1</span><span class="g" style="transform-origin:0 29.01px;transform:scaleY(0.915)">1</span></div>
<div class="t" style="left:1213.12px;top:988.79px;font-size:26.0px;transform:scaleX(0.8850)">(<span class="g" style="transform-origin:0 29.01px;transform:scaleY(0.915)">0</span>·<span class="g" style="transform-origin:0 29.01px;transform:scaleY(1.04)">6</span>%)</div>
<div class="t" style="left:1371.02px;top:988.79px;font-size:26.0px;transform:scaleX(0.8786)">−<span class="g" style="transform-origin:0 29.01px;transform:scaleY(0.915)">0</span>·<span class="g" style="transform-origin:0 29.01px;transform:scaleY(0.915)">0</span><span class="g" style="transform-origin:0 29.01px;transform:scaleY(0.915)">0</span><span class="g" style="transform-origin:0 29.01px;transform:scaleY(0.915)">2</span>% (−<span class="g" style="transform-origin:0 29.01px;transform:scaleY(0.915)">0</span>·<span class="g" style="transform-origin:0 29.01px;transform:translateY(2.7px) scaleY(1.04)">4</span><span class="g" style="transform-origin:0 29.01px;transform:translateY(2.7px) scaleY(1.04)">7</span> to <span class="g" style="transform-origin:0 29.01px;transform:scaleY(0.915)">0</span>·<span class="g" style="transform-origin:0 29.01px;transform:translateY(2.7px) scaleY(1.04)">4</span><span class="g" style="transform-origin:0 29.01px;transform:translateY(2.7px) scaleY(1.04)">7</span>)</div>
<div class="t" style="left:1672.12px;top:988.79px;font-size:26.0px;transform:scaleX(0.8832)"><span class="g" style="transform-origin:0 29.01px;transform:scaleY(0.915)">0</span>·<span class="g" style="transform-origin:0 29.01px;transform:translateY(2.7px) scaleY(1.04)">9</span><span class="g" style="transform-origin:0 29.01px;transform:translateY(2.7px) scaleY(1.04)">9</span> (<span class="g" style="transform-origin:0 29.01px;transform:scaleY(0.915)">0</span>·<span class="g" style="transform-origin:0 29.01px;transform:translateY(2.7px) scaleY(1.04)">4</span><span class="g" style="transform-origin:0 29.01px;transform:translateY(2.7px) scaleY(1.04)">3</span> to <span class="g" style="transform-origin:0 29.01px;transform:scaleY(0.915)">2</span>·<span class="g" style="transform-origin:0 29.01px;transform:translateY(2.7px) scaleY(1.04)">3</span><span class="g" style="transform-origin:0 29.01px;transform:scaleY(0.915)">1</span>)</div>
<div class="t" style="left:1924.64px;top:988.79px;font-size:26.0px;transform:scaleX(0.8638)"><span class="g" style="transform-origin:0 29.01px;transform:scaleY(0.915)">1</span>·<span class="g" style="transform-origin:0 29.01px;transform:scaleY(0.915)">0</span></div>
<div class="t" style="left:64.82px;top:1031.99px;font-size:26.0px;transform:scaleX(0.8888)">Haemorrhagic stroke</div>
<div class="t" style="left:965.41px;top:1031.99px;font-size:26.0px;transform:scaleX(0.8850)"><span class="g" style="transform-origin:0 29.01px;transform:translateY(2.7px) scaleY(1.04)">4</span></div>
<div class="t" style="left:983.12px;top:1031.99px;font-size:26.0px;transform:scaleX(0.8850)">(<span class="g" style="transform-origin:0 29.01px;transform:scaleY(0.915)">0</span>·<span class="g" style="transform-origin:0 29.01px;transform:scaleY(0.915)">2</span>%)</div>
<div class="t" style="left:1194.61px;top:1031.99px;font-size:26.0px;transform:scaleX(0.8850)"><span class="g" style="transform-origin:0 29.01px;transform:translateY(2.7px) scaleY(1.04)">3</span></div>
<div class="t" style="left:1213.12px;top:1031.99px;font-size:26.0px;transform:scaleX(0.8850)">(<span class="g" style="transform-origin:0 29.01px;transform:scaleY(0.915)">0</span>·<span class="g" style="transform-origin:0 29.01px;transform:scaleY(0.915)">2</span>%)</div>
<div class="t" style="left:1383.23px;top:1031.99px;font-size:26.0px;transform:scaleX(0.8716)"><span class="g" style="transform-origin:0 29.01px;transform:scaleY(0.915)">0</span>·<span class="g" style="transform-origin:0 29.01px;transform:scaleY(0.915)">0</span><span class="g" style="transform-origin:0 29.01px;transform:translateY(2.7px) scaleY(1.04)">5</span>% (−<span class="g" style="transform-origin:0 29.01px;transform:scaleY(0.915)">0</span>·<span class="g" style="transform-origin:0 29.01px;transform:scaleY(0.915)">2</span><span class="g" style="transform-origin:0 29.01px;transform:translateY(2.7px) scaleY(1.04)">5</span> to <span class="g" style="transform-origin:0 29.01px;transform:scaleY(0.915)">0</span>·<span class="g" style="transform-origin:0 29.01px;transform:translateY(2.7px) scaleY(1.04)">3</span><span class="g" style="transform-origin:0 29.01px;transform:translateY(2.7px) scaleY(1.04)">7</span>)</div>
<div class="t" style="left:1672.12px;top:1031.99px;font-size:26.0px;transform:scaleX(0.8809)"><span class="g" style="transform-origin:0 29.01px;transform:scaleY(0.915)">1</span>·<span class="g" style="transform-origin:0 29.01px;transform:translateY(2.7px) scaleY(1.04)">3</span><span class="g" style="transform-origin:0 29.01px;transform:translateY(2.7px) scaleY(1.04)">4</span> (<span class="g" style="transform-origin:0 29.01px;transform:scaleY(0.915)">0</span>·<span class="g" style="transform-origin:0 29.01px;transform:translateY(2.7px) scaleY(1.04)">3</span><span class="g" style="transform-origin:0 29.01px;transform:scaleY(0.915)">0</span> to <span class="g" style="transform-origin:0 29.01px;transform:translateY(2.7px) scaleY(1.04)">5</span>·<span class="g" style="transform-origin:0 29.01px;transform:translateY(2.7px) scaleY(1.04)">9</span><span class="g" style="transform-origin:0 29.01px;transform:translateY(2.7px) scaleY(1.04)">7</span>)</div>
<div class="t" style="left:1924.64px;top:1031.99px;font-size:26.0px;transform:scaleX(0.8561)"><span class="g" style="transform-origin:0 29.01px;transform:scaleY(0.915)">0</span>·<span class="g" style="transform-origin:0 29.01px;transform:translateY(2.7px) scaleY(1.04)">7</span><span class="g" style="transform-origin:0 29.01px;transform:scaleY(0.915)">0</span></div>
<div class="t" style="left:32.28px;top:1084.83px;font-size:23.0px;transform:scaleX(0.9169)">Data are the number of events (%).</div>
<div class="t b" style="left:32.37px;top:1145.76px;font-size:25.5px;font-weight:bold;font-style:italic;transform:scaleX(0.8251)">Table</div>
<div class="t b" style="left:92.00px;top:1145.76px;font-size:25.5px;font-weight:bold;transform:scaleX(0.8970)"><span class="g" style="transform-origin:0 28.84px;transform:scaleY(0.915)">2</span>:</div>
<div class="t b" style="left:116.00px;top:1145.76px;font-size:25.5px;font-weight:bold;transform:scaleX(0.9176)"><span class="g" style="transform-origin:0 28.84px;transform:translateY(2.7px) scaleY(1.04)">3</span>-year clinical endpoint in the intention-to-treat population</div>
<div class="dt" style="left:1398.90px;top:620.90px"></div><div class="dt" style="left:1405.00px;top:620.90px"></div><div class="dt" style="left:1687.40px;top:620.90px"></div><div class="dt" style="left:1693.00px;top:620.90px"></div><div class="dt" style="left:1939.90px;top:620.90px"></div><div class="dt" style="left:1945.40px;top:620.90px"></div><div class="dt" style="left:1398.90px;top:664.10px"></div><div class="dt" style="left:1405.00px;top:664.10px"></div><div class="dt" style="left:1687.40px;top:664.10px"></div><div class="dt" style="left:1693.00px;top:664.10px"></div><div class="dt" style="left:1939.90px;top:664.10px"></div><div class="dt" style="left:1945.40px;top:664.10px"></div><div class="dt" style="left:1398.90px;top:793.70px"></div><div class="dt" style="left:1405.00px;top:793.70px"></div><div class="dt" style="left:1687.40px;top:793.70px"></div><div class="dt" style="left:1693.00px;top:793.70px"></div><div class="dt" style="left:1939.90px;top:793.70px"></div><div class="dt" style="left:1945.40px;top:793.70px"></div><div class="dt" style="left:1398.90px;top:836.90px"></div><div class="dt" style="left:1405.00px;top:836.90px"></div><div class="dt" style="left:1687.40px;top:836.90px"></div><div class="dt" style="left:1693.00px;top:836.90px"></div><div class="dt" style="left:1939.90px;top:836.90px"></div><div class="dt" style="left:1945.40px;top:836.90px"></div>
</div>
</body></html>
